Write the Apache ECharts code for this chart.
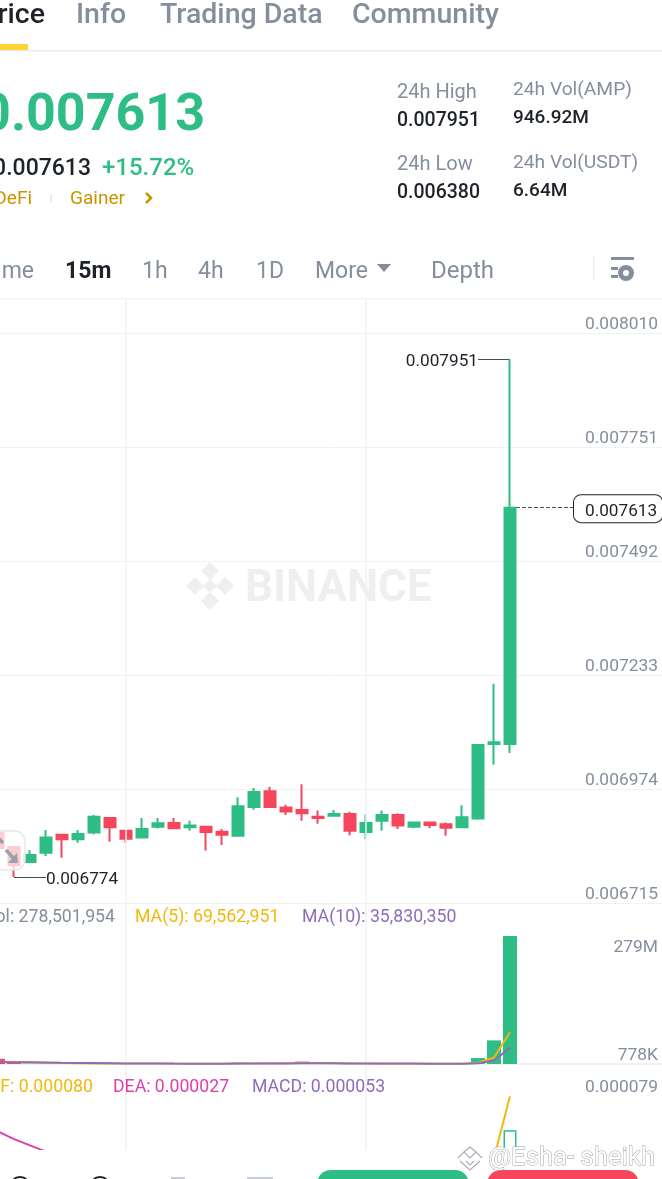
<!DOCTYPE html>
<html>
<head>
<meta charset="utf-8">
<style>html,body{margin:0;padding:0;background:#fff}#main{width:662px;height:1179px}</style>
<script src="https://cdn.jsdelivr.net/npm/echarts@6/dist/echarts.min.js"></script>
</head>
<body>
<div id="main"></div>
<script>
const opens  = [0.006874,0.006842,0.006808,0.006829,0.006870,0.006860,0.006875,0.006908,0.006879,0.006864,0.006888,0.006897,0.006887,0.006888,0.006877,0.006868,0.006933,0.006969,0.006932,0.006926,0.006911,0.006913,0.006917,0.006876,0.006902,0.006915,0.006888,0.006898,0.006894,0.006887,0.006907,0.007076,0.007076]
const closes = [0.006840,0.006801,0.006824,0.006864,0.006860,0.006872,0.006911,0.006887,0.006861,0.006883,0.006896,0.006885,0.006891,0.006876,0.006870,0.006935,0.006967,0.006933,0.006923,0.006919,0.006908,0.006917,0.006879,0.006897,0.006915,0.006891,0.006898,0.006892,0.006886,0.006910,0.007074,0.007080,0.007613]
const lows   = [0.006836,0.006774,0.006807,0.006822,0.006818,0.006852,0.006871,0.006854,0.006852,0.006863,0.006884,0.006884,0.006879,0.006834,0.006847,0.006867,0.006927,0.006932,0.006915,0.006902,0.006895,0.006911,0.006869,0.006860,0.006879,0.006883,0.006885,0.006885,0.006868,0.006886,0.006904,0.007029,0.007056]
const highs  = [0.006876,0.006843,0.006835,0.006881,0.006872,0.006881,0.006915,0.006909,0.006881,0.006908,0.006908,0.006908,0.006902,0.006889,0.006883,0.006955,0.006976,0.006979,0.006938,0.006985,0.006925,0.006926,0.006922,0.006916,0.006925,0.006919,0.006900,0.006899,0.006898,0.006937,0.007076,0.007213,0.007951]
const volumes = [12000000,5000000,1500000,2000000,1500000,1200000,2000000,1800000,1500000,1300000,1200000,1100000,1000000,1400000,1200000,3500000,2600000,2400000,1500000,6000000,1200000,1100000,1800000,1400000,1200000,1300000,1000000,950000,1100000,1600000,13700000,52000000,278501954]
const ma5 = [6000000,5200000,4200000,3500000,2800000,2200000,1800000,1700000,1700000,1600000,1600000,1400000,1300000,1300000,1300000,1700000,1900000,2200000,2200000,3200000,2800000,2400000,1800000,1600000,1400000,1400000,1300000,1200000,1200000,1200000,3700000,15000000,69562951]
const ma10 = [5000000,4800000,4400000,3900000,3400000,3000000,2700000,2400000,2100000,1900000,1800000,1600000,1500000,1500000,1500000,1600000,1700000,1900000,1900000,2400000,2300000,2200000,2100000,1900000,2000000,1900000,1700000,1500000,1400000,1400000,2400000,8400000,35830350]
const dif = [0.000012,0.000011,0.000010,0.000009,0.000009,0.000009,0.000010,0.000010,0.000009,0.000009,0.000010,0.000010,0.000010,0.000009,0.000009,0.000012,0.000016,0.000016,0.000015,0.000014,0.000012,0.000011,0.000009,0.000008,0.000008,0.000007,0.000006,0.000006,0.000005,0.000006,0.000012,0.000031,0.000080]
const dea = [0.000052,0.000046,0.000041,0.000036,0.000032,0.000028,0.000025,0.000023,0.000021,0.000019,0.000017,0.000016,0.000015,0.000014,0.000013,0.000013,0.000013,0.000014,0.000014,0.000014,0.000014,0.000013,0.000013,0.000013,0.000012,0.000012,0.000012,0.000011,0.000011,0.000011,0.000012,0.000014,0.000027]
const macd = [null,null,null,null,null,null,null,null,null,null,null,null,null,null,null,null,null,null,null,null,null,null,null,null,null,null,null,null,null,null,null,null,0.000053]

const slots = ['0','1','2','3','4','5','6','7','8','9','10','11','12','13','14','15','16','17','18','19','20','21','22','23','24','25','26','27','28','29','30','31','32','33','34','35','36','37','38','39','40','41']
const priceTicks = [0.006715,0.006974,0.007233,0.007492,0.007751,0.008010]
const volTicks = [778000,278501954]
const volTickLabels = ['778K','279M']
const macdTicks = [0.000079]
const timeLines = [8,23]
const lastPrice = 0.007613
const highPrice = 0.007951
const lowPrice = 0.006774

const GREEN = '#2EBD85'
const RED = '#F6465D'
const GREY = '#848E9C'
const DARK = '#1E2329'
const GOLD = '#C99400'
const YELLOW = '#F0B90B'
const PURPLE = '#8E6CBB'
const PINK = '#E03FA8'
const LINE = '#F0F1F3'
const FONT = 'Roboto, sans-serif'

function t(text, x, y, size, fill, weight, align) {
  return {
    type: 'text', z: 50,
    style: {
      text: text, x: x, y: y + 2, fill: fill,
      font: (weight || 400) + ' ' + size + 'px ' + FONT,
      textAlign: align || 'left', textVerticalAlign: 'middle'
    }
  }
}
function rect(x, y, w, h, fill, r, z) {
  return { type: 'rect', z: z || 50, shape: { x: x, y: y, width: w, height: h, r: r || 0 }, style: { fill: fill } }
}
function poly(points, fill, z) {
  return { type: 'polygon', z: z || 50, shape: { points: points }, style: { fill: fill } }
}
function stroke(points, color, width, z) {
  return { type: 'polyline', z: z || 50, shape: { points: points }, style: { stroke: color, lineWidth: width, fill: null } }
}
function diamond(cx, cy, r, fill, z) {
  return poly([[cx, cy - r], [cx + r, cy], [cx, cy + r], [cx - r, cy]], fill, z)
}

const graphics = [
  // tabs
  t('Price', 45, 14, 28.5, DARK, 500, 'right'),
  t('Info', 76, 14, 28.5, GREY, 500),
  t('Trading Data', 160, 14, 28.5, GREY, 500),
  t('Community', 352, 14, 28.5, GREY, 500),
  rect(0, 50, 662, 1.5, '#EAECEF'),
  rect(0, 44, 28, 6, '#FCD535'),
  // price block
  t('0.007613', 205, 115, 52, GREEN, 700, 'right'),
  t('0.007613', 91, 167, 23, DARK, 500, 'right'),
  t('+15.72%', 102, 167, 24, GREEN, 500),
  t('DeFi', 32, 197, 19, GOLD, 400, 'right'),
  rect(50, 194, 2, 8, '#EAECEF'),
  t('Gainer', 70, 197, 19, GOLD),
  stroke([[146, 193], [151, 198], [146, 203]], GOLD, 2.5),
  t('24h High', 397, 91, 20, GREY),
  t('0.007951', 397, 119, 19.5, DARK, 500),
  t('24h Low', 397, 163, 20, GREY),
  t('0.006380', 397, 191, 19.5, DARK, 500),
  t('24h Vol(AMP)', 513, 88, 19.2, GREY),
  t('946.92M', 513, 116, 19, DARK, 500),
  t('24h Vol(USDT)', 513, 161, 19.2, GREY),
  t('6.64M', 513, 189, 19, DARK, 500),
  // time row
  t('Time', 34, 270, 23, GREY, 400, 'right'),
  t('15m', 65, 270, 23, DARK, 700),
  t('1h', 142, 270, 23, GREY),
  t('4h', 198, 270, 23, GREY),
  t('1D', 256, 270, 23, GREY),
  t('More', 315, 270, 23, GREY),
  poly([[377, 264], [391, 264], [384, 272]], GREY),
  t('Depth', 431, 270, 24, GREY),
  rect(593, 256, 1.5, 24, '#EAECEF'),
  rect(611, 257, 23, 3, GREY),
  rect(611, 267, 7, 3, GREY),
  rect(611, 275, 7, 3, GREY),
  { type: 'circle', z: 50, shape: { cx: 626, cy: 273, r: 5.5 }, style: { fill: '#fff', stroke: GREY, lineWidth: 5 } },
  rect(0, 298, 662, 1.5, '#F2F3F5'),
  // watermark
  diamond(210, 586, 7, '#EEEFF1', 1),
  diamond(210, 571, 9, '#EEEFF1', 1),
  diamond(210, 601, 9, '#EEEFF1', 1),
  diamond(195, 586, 9, '#EEEFF1', 1),
  diamond(225, 586, 9, '#EEEFF1', 1),
  { type: 'text', z: 1, style: { text: 'BINANCE', x: 245, y: 590, fill: '#EEEFF1', font: '700 44px ' + FONT, textVerticalAlign: 'middle' } },
  // legends
  t('Vol: 278,501,954', 115, 916, 17.7, GREY, 400, 'right'),
  t('MA(5): 69,562,951', 135, 916, 17.7, YELLOW),
  t('MA(10): 35,830,350', 302, 916, 17.7, PURPLE),
  t('DIF: 0.000080', 93, 1086, 17.7, YELLOW, 400, 'right'),
  t('DEA: 0.000027', 113, 1086, 17.7, PINK),
  t('MACD: 0.000053', 252, 1086, 17.7, PURPLE),
  // expand button over the left candles
  { type: 'rect', z: 40, shape: { x: -22, y: 831, width: 47, height: 39, r: 10 }, style: { fill: 'rgba(255,255,255,0.72)', stroke: '#E6E8EB', lineWidth: 1.5 } },
  stroke([[6, 850], [16, 861]], '#9AA1AC', 3.5, 41),
  poly([[17, 853], [18, 863], [8, 863]], '#9AA1AC', 41),
  stroke([[-2, 838], [3, 843]], '#9AA1AC', 3.5, 41),
  // footer
  rect(0, 1150, 662, 29, '#fff', 0, 45),
  rect(317, 1170, 152, 30, GREEN, 14, 46),
  rect(487, 1170, 152, 30, RED, 14, 46),
  { type: 'circle', z: 46, shape: { cx: 20, cy: 1187, r: 10 }, style: { fill: '#fff', stroke: DARK, lineWidth: 2 } },
  { type: 'circle', z: 46, shape: { cx: 100, cy: 1187, r: 10 }, style: { fill: '#fff', stroke: DARK, lineWidth: 2 } },
  rect(171, 1177, 14, 2, '#C9CDD3', 0, 46),
  rect(247, 1177, 26, 2, '#C9CDD3', 0, 46),
  // share watermark
  stroke([[458, 1158], [464, 1152], [470, 1158], [476, 1152], [482, 1158]], '#A9ADB3', 1.2, 60),
  stroke([[460, 1161], [470, 1170], [480, 1161]], '#A9ADB3', 1.2, 60),
  stroke([[464, 1152], [470, 1147], [476, 1152]], '#A9ADB3', 1.2, 60),
  stroke([[466, 1161], [470, 1165], [474, 1161]], '#A9ADB3', 1.2, 60),
  { type: 'text', z: 60, style: { text: '@Esha- sheikh', x: 488, y: 1159, fill: '#fff', stroke: '#9EA3AA', lineWidth: 1, font: '400 25.7px ' + FONT, textVerticalAlign: 'middle' } }
]

const hiddenX = i => ({
  type: 'category', gridIndex: i, data: slots, boundaryGap: true,
  axisLabel: { show: false }, axisTick: { show: false },
  axisLine: i === 2 ? { show: true, lineStyle: { color: '#EAECEF', width: 1.5 } } : { show: false },
  splitLine: { show: false }
})

const chart = echarts.init(document.getElementById('main'))
chart.setOption({
  animation: false,
  backgroundColor: '#fff',
  textStyle: { fontFamily: FONT },
  graphic: { elements: graphics },
  grid: [
    { left: -10, width: 672, top: 299, height: 861, outerBoundsMode: 'none' },
    { left: -10, width: 672, top: 299, height: 604, outerBoundsMode: 'none' },
    { left: -10, width: 672, top: 936, height: 128, outerBoundsMode: 'none' },
    { left: -10, width: 672, top: 1079, height: 81, outerBoundsMode: 'none' }
  ],
  xAxis: [hiddenX(0), hiddenX(1), hiddenX(2), hiddenX(3)],
  yAxis: [
    { type: 'value', gridIndex: 0, min: 0, max: 1, show: false, splitLine: { show: false } },
    {
      type: 'value', gridIndex: 1, position: 'right', min: 0.006715, max: 0.008087, scale: true,
      axisLine: { show: false },
      axisTick: { show: false, customValues: priceTicks },
      axisLabel: {
        inside: true, margin: 4, color: GREY, fontSize: 17.4, verticalAlign: 'bottom',
        customValues: priceTicks, formatter: v => v.toFixed(6)
      },
      splitLine: { show: true, lineStyle: { color: LINE, width: 1 } }
    },
    {
      type: 'value', gridIndex: 2, position: 'right', min: volTicks[0], max: volTicks[1],
      axisLine: { show: false },
      axisTick: { show: false, customValues: volTicks },
      axisLabel: {
        inside: true, margin: 4, color: GREY, fontSize: 17.4,
        customValues: volTicks,
        verticalAlignMinLabel: 'bottom', verticalAlignMaxLabel: 'top',
        padding: [3, 0, 0, 0],
        formatter: v => volTickLabels[volTicks.indexOf(v)]
      },
      splitLine: { show: false }
    },
    {
      type: 'value', gridIndex: 3, position: 'right', min: 0.0000294, max: 0.00009365,
      axisLine: { show: false },
      axisTick: { show: false, customValues: macdTicks },
      axisLabel: {
        inside: true, margin: 4, color: GREY, fontSize: 17.4, verticalAlign: 'bottom', padding: [0, 0, 1, 0],
        customValues: macdTicks, formatter: v => v.toFixed(6)
      },
      splitLine: { show: false }
    }
  ],
  series: [
    {
      type: 'line', xAxisIndex: 0, yAxisIndex: 0, data: [], silent: true, z: 0,
      markLine: {
        silent: true, symbol: 'none', label: { show: false },
        lineStyle: { color: LINE, type: 'solid', width: 1.5 },
        data: timeLines.map(i => ({ xAxis: i }))
      }
    },
    {
      type: 'candlestick', xAxisIndex: 1, yAxisIndex: 1, barWidth: 12, z: 3,
      data: opens.map((o, i) => [o, closes[i], lows[i], highs[i]]),
      itemStyle: { color: GREEN, color0: RED, borderColor: GREEN, borderColor0: RED, borderWidth: 2 }
    },
    {
      // callouts sit in their own empty series so they stay behind the candles
      type: 'line', xAxisIndex: 1, yAxisIndex: 1, data: [], silent: true, z: 2,
      markLine: {
        silent: true, symbol: 'none', z: 2,
        lineStyle: { color: '#474D57', type: 'solid', width: 1 },
        label: { position: 'end', color: DARK, fontSize: 17.2, distance: 0, offset: [0, 2.5] },
        data: [
          [{ coord: [32, highPrice], label: { formatter: highPrice.toFixed(6) } }, { coord: [30, highPrice] }],
          [{ coord: [1, lowPrice], label: { formatter: lowPrice.toFixed(6) } }, { coord: [3, lowPrice] }],
          [{
            coord: [32, lastPrice],
            lineStyle: { type: 'dashed', color: '#474D57' },
            label: {
              formatter: '{v|' + lastPrice.toFixed(6) + '}',
              rich: { v: { fontSize: 17.2, color: DARK, padding: [8, 0, 0, 0] } },
              distance: 0, offset: [0, 1], padding: [0, 5, 2, 11], backgroundColor: '#fff',
              borderColor: DARK, borderWidth: 1, borderRadius: 7
            }
          }, { coord: [36, lastPrice] }]
        ]
      }
    },
    {
      type: 'bar', xAxisIndex: 2, yAxisIndex: 2, barWidth: 14,
      data: volumes.map((v, i) => ({ value: v, itemStyle: { color: closes[i] >= opens[i] ? GREEN : RED } }))
    },
    { type: 'line', xAxisIndex: 2, yAxisIndex: 2, data: ma5, showSymbol: false, z: 4, lineStyle: { color: YELLOW, width: 2 } },
    { type: 'line', xAxisIndex: 2, yAxisIndex: 2, data: ma10, showSymbol: false, z: 5, lineStyle: { color: PURPLE, width: 2 } },
    {
      type: 'bar', xAxisIndex: 3, yAxisIndex: 3, barWidth: 13, data: macd,
      itemStyle: { color: 'rgba(255,255,255,0)', borderColor: GREEN, borderWidth: 1.5 }
    },
    { type: 'line', xAxisIndex: 3, yAxisIndex: 3, data: dif, showSymbol: false, lineStyle: { color: YELLOW, width: 2 } },
    { type: 'line', xAxisIndex: 3, yAxisIndex: 3, data: dea, showSymbol: false, lineStyle: { color: PINK, width: 2 } }
  ]
})
</script>
</body>
</html>
